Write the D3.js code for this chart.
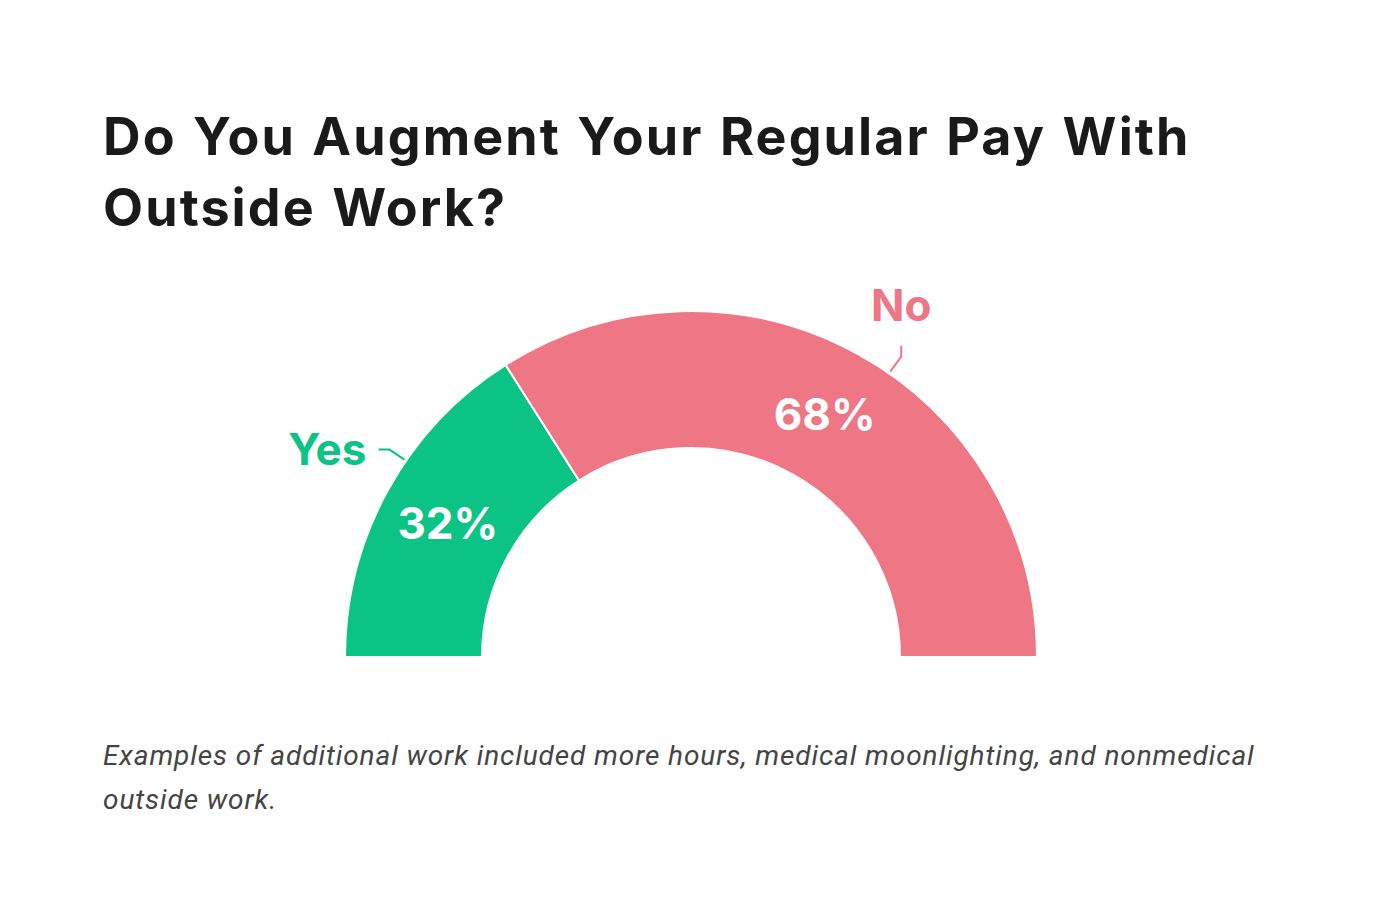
<!DOCTYPE html>
<html><head><meta charset="utf-8">
<script src="https://cdn.jsdelivr.net/npm/d3@7"></script>
<style>body{margin:0;background:#fff}</style>
</head><body>
<script>
const categories = ["Yes", "No"];
const values = [32, 68];
const pctLabels = ["32%", "68%"];
const colors = ["#0cc386", "#ef7685"];
const titleLines = ["Do You Augment Your Regular Pay With", "Outside Work?"];
const captionLines = ["Examples of additional work included more hours, medical moonlighting, and nonmedical", "outside work."];

const W = 1380, H = 908;
const svg = d3.select("body").append("svg").attr("width", W).attr("height", H);

svg.selectAll("text.title").data(titleLines).join("text")
  .attr("class", "title")
  .attr("x", 103).attr("y", (d, i) => 155 + i * 71)
  .attr("font-family", "Inter, sans-serif").attr("font-weight", 700)
  .attr("font-size", 52).attr("letter-spacing", 2.1).attr("word-spacing", 2)
  .attr("fill", "#1a1a1a").text(d => d);

svg.selectAll("text.cap").data(captionLines).join("text")
  .attr("class", "cap")
  .attr("x", 103).attr("y", (d, i) => 765 + i * 44)
  .attr("font-family", "Roboto, sans-serif").attr("font-style", "italic")
  .attr("font-size", 28).attr("letter-spacing", 0.9).attr("fill", "#444").text(d => d);

const cx = 691, cy = 657, rOut = 346, rIn = 209;
const g = svg.append("g").attr("transform", `translate(${cx},${cy})`);
const pie = d3.pie().sort(null).startAngle(-Math.PI / 2).endAngle(Math.PI / 2);
const arcs = pie(values);
const arc = d3.arc().innerRadius(rIn).outerRadius(rOut);

g.selectAll("path").data(arcs).join("path")
  .attr("d", arc).attr("fill", (d, i) => colors[i])
  .attr("stroke", "#fff").attr("stroke-width", 2);

g.selectAll("text.pct").data(arcs).join("text")
  .attr("transform", d => `translate(${arc.centroid(d)})`)
  .attr("text-anchor", "middle").attr("dy", "0.36em")
  .attr("font-family", "Inter, sans-serif").attr("font-weight", 700)
  .attr("font-size", 44).attr("fill", "#fff").text((d, i) => pctLabels[i]);

const fracs = [0.6, 0.55];
function pt(a, r) { return [Math.sin(a) * r, -Math.cos(a) * r]; }
arcs.forEach((d, i) => {
  const a = d.startAngle + (d.endAngle - d.startAngle) * fracs[i];
  const p0 = pt(a, rOut + 2);
  let pts, lx, ly, anchor;
  if (i === 0) {
    const p1 = [p0[0] - 15, p0[1] - 10];
    const p2 = [p1[0] - 11, p1[1]];
    pts = [p0, p1, p2]; lx = p2[0] - 12; ly = p2[1] + 15; anchor = "end";
  } else {
    const p1 = [p0[0] + 11, p0[1] - 15];
    const p2 = [p1[0], p1[1] - 11];
    pts = [p0, p1, p2]; lx = p2[0]; ly = p2[1] - 25; anchor = "middle";
  }
  g.append("path").attr("d", d3.line()(pts)).attr("fill", "none")
    .attr("stroke", colors[i]).attr("stroke-width", 2);
  g.append("text").attr("x", lx).attr("y", ly).attr("text-anchor", anchor)
    .attr("font-family", "Inter, sans-serif").attr("font-weight", 700)
    .attr("font-size", 44).attr("fill", colors[i]).text(categories[i]);
});
</script>
</body></html>
